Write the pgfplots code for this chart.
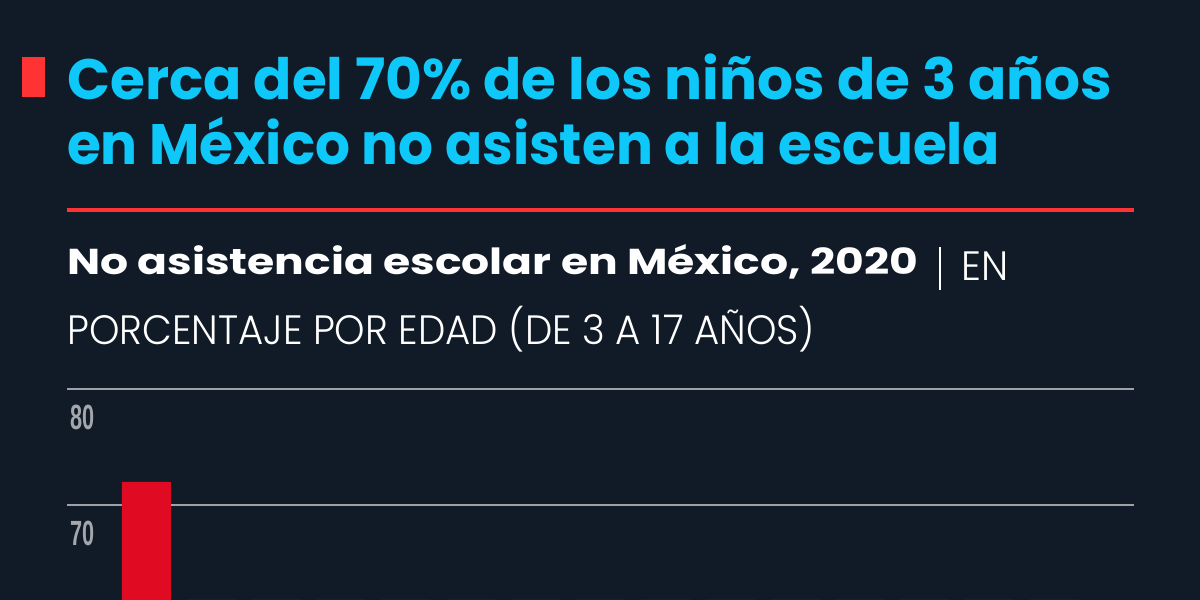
\documentclass[border=0pt]{standalone}
\usepackage{pgfplots}
\pgfplotsset{compat=1.18}
\usepackage{fontspec}
\setmainfont{Poppins}
\newfontfamily\plight{Poppins Light}
\newfontfamily\tickfont{Liberation Sans}
\definecolor{bg}{HTML}{111A27}
\definecolor{tcyan}{HTML}{0FC8FA}
\definecolor{mred}{HTML}{FF3333}
\definecolor{barred}{HTML}{E00B22}
\definecolor{gridgray}{HTML}{9EA2A7}
\definecolor{labgray}{HTML}{A3A7AC}
\newlength\tw
\newcommand\fitw[2]{\settowidth\tw{#2}\pgfmathsetmacro\sx{#1/\tw}\scalebox{\sx}[1]{#2}}
\begin{document}
\begin{tikzpicture}[x=1pt,y=1pt]
\fill[bg] (0,0) rectangle (1200,600);
\useasboundingbox (0,0) rectangle (1200,600);
\fill[mred] (22,503) rectangle (45,543);
\node[anchor=base west, inner sep=0pt, text=tcyan] at (67,500) {\fitw{1045}{\fontsize{57}{60}\selectfont\bfseries Cerca del 70\% de los niños de 3 años}};
\node[anchor=base west, inner sep=0pt, text=tcyan] at (67,435) {\fitw{933}{\fontsize{57}{60}\selectfont\bfseries en México no asisten a la escuela}};
\fill[mred] (67,388) rectangle (1134,392);
\node[anchor=base west, inner sep=0pt, text=white] at (67,325) {\fitw{851}{\fontsize{36}{40}\selectfont\bfseries No asistencia escolar en México, 2020}};
\draw[white, line width=1.5pt] (940,310) -- (940,353);
\node[anchor=base west, inner sep=0pt, text=white] at (961,319) {\fitw{47}{\fontsize{41}{44}\selectfont\plight EN}};
\node[anchor=base west, inner sep=0pt, text=white] at (67,255) {\fitw{748}{\fontsize{41}{44}\selectfont\plight PORCENTAJE POR EDAD (DE 3 A 17 AÑOS)}};
\begin{axis}[at={(67pt,0pt)}, anchor=south west, width=1067pt, height=220pt, scale only axis,
  xmin=-1.225, xmax=15.225, ymin=61.81, ymax=80.78,
  axis line style={draw=none}, tick style={draw=none},
  xtick=\empty, ytick={70,80}, ymajorgrids,
  grid style={gridgray, line width=2pt},
  /pgf/number format/assume math mode=true,
  yticklabel={\tickfont\bfseries\fontsize{35}{36}\selectfont\scalebox{0.62}[1]{\pgfmathprintnumber{\tick}}},
  yticklabel style={anchor=north west, inner sep=0pt, xshift=3pt, yshift=-16pt, text=labgray},
  ybar, bar width=49pt]
\addplot[fill=barred, draw=none] coordinates {(0,72) (1,34) (2,13) (3,5) (4,3.5) (5,3) (6,3) (7,3) (8,3.5) (9,5) (10,8) (11,11) (12,20) (13,28) (14,36)};
\end{axis}
\end{tikzpicture}
\end{document}
